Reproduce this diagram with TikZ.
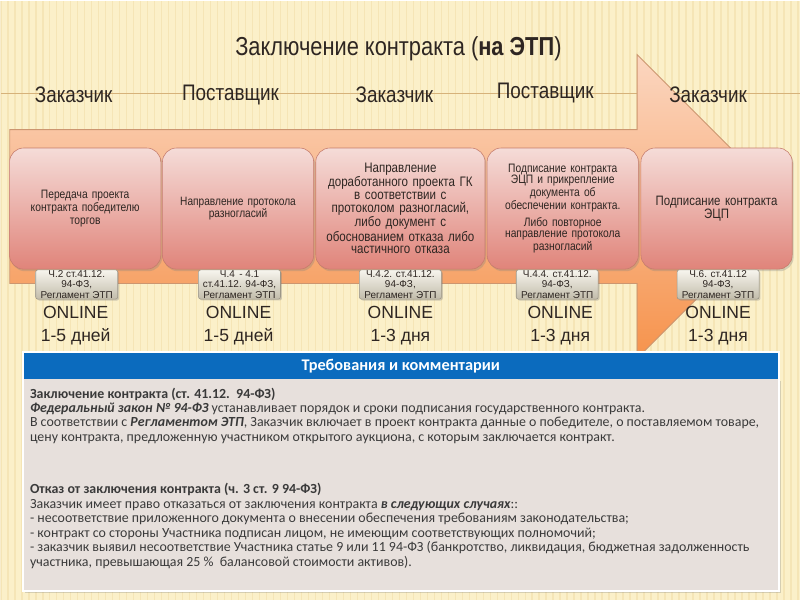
\documentclass[tikz,border=0pt]{standalone}
\usepackage{fontspec}
\setmainfont{Liberation Sans}
\newfontfamily\narrowfont[FakeStretch=0.84]{Liberation Sans}
\newfontfamily\panelfont{Carlito}
\usetikzlibrary{shadows,positioning}
\definecolor{CreamBg}    {HTML}{FBF0C9}
\definecolor{CreamStripe}{HTML}{F1DFAA}
\definecolor{RuleTan}    {HTML}{D6B27A}
\definecolor{ArrowTop}   {HTML}{FBD6C0}
\definecolor{ArrowBot}   {HTML}{F6934C}
\definecolor{ArrowEdge}  {HTML}{CC9670}
\definecolor{StepTop}    {HTML}{F5DCD8}
\definecolor{StepBot}    {HTML}{E0847A}
\definecolor{StepEdge}   {HTML}{C57C6C}
\definecolor{TagTop}     {HTML}{F7F5EE}
\definecolor{TagBot}     {HTML}{C2BCAA}
\definecolor{InkDark}    {HTML}{2E2622}
\definecolor{PanelBlue}  {HTML}{0B6BBE}
\definecolor{PanelBody}  {HTML}{E7E0DC}
\definecolor{PanelInk}   {HTML}{3A3A3A}
\tikzset{
  stepbox/.style={rectangle,rounded corners=10pt,draw=StepEdge,
                  top color=StepTop,bottom color=StepBot,
                  minimum width=3.65cm,minimum height=3.03cm,
                  text width=3.55cm,align=center,text=InkDark,
                  font=\narrowfont\fontsize{8.7}{9.6}\selectfont,
                  drop shadow={opacity=0.3,shadow xshift=1pt,shadow yshift=-1.5pt}},
  reftag/.style={rectangle,rounded corners=1.5pt,draw=TagBot!80!black,
                 top color=TagTop,bottom color=TagBot,
                 minimum width=2.05cm,minimum height=0.7cm,inner sep=0.5pt,
                 align=center,text=InkDark,
                 font=\fontsize{7.1}{7.4}\selectfont,
                 drop shadow={opacity=0.35,shadow xshift=1pt,shadow yshift=-1pt}},
  rolelbl/.style={font=\narrowfont\fontsize{16}{18}\selectfont,text=InkDark},
  termlbl/.style={font=\fontsize{12.5}{16.4}\selectfont,align=center,text=InkDark},
  paratext/.style={anchor=north west,inner sep=0pt,align=left,text=PanelInk,
                   font=\panelfont\fontsize{9.9}{10.3}\selectfont},
}

\begin{document}
\begin{tikzpicture}[x=0.025cm,y=-0.025cm]

  \fill[CreamBg] (0,0) rectangle (800,600);
  \foreach \sx in {0,7,...,800}
    \draw[CreamStripe,line width=1.1pt,opacity=0.6] (\sx,0) -- (\sx,600);
  \useasboundingbox (0,0) rectangle (800,600);

  \draw[RuleTan,line width=0.6pt] (0,93) -- (800,93);

  \draw[ArrowEdge,line width=0.6pt,top color=ArrowTop,bottom color=ArrowBot]
    (9,129) -- (637,129) -- (637,54) -- (789,206) -- (637,358)
    -- (637,283) -- (9,283) -- cycle;

  \node[font=\narrowfont\fontsize{18.5}{20}\selectfont,text=InkDark] (title) at (398,48)
    {Заключение контракта (\textbf{на ЭТП})};

  \node[rolelbl] (role1) at (73,94)  {Заказчик};
  \node[rolelbl] (role2) at (230,94) {Поставщик};
  \node[rolelbl] (role3) at (394,94) {Заказчик};
  \node[rolelbl] (role4) at (545,92) {Поставщик};
  \node[rolelbl] (role5) at (708,94) {Заказчик};

  \node[stepbox] (handover) at (84.5,208)
    {Передача проекта\\контракта победителю\\торгов};
  \node[stepbox,font=\narrowfont\fontsize{8.6}{8.8}\selectfont] (protocol) at (237.5,208)
    {Направление протокола\\разногласий};
  \node[stepbox,minimum width=4.1cm,text width=4.0cm,
        font=\narrowfont\fontsize{9.8}{9.1}\selectfont] (revised) at (400,208)
    {Направление\\доработанного проекта ГК\\в соответствии с\\протоколом разногласий,\\либо документ с\\обоснованием отказа либо\\частичного отказа};
  \node[stepbox,font=\narrowfont\fontsize{8.7}{7.9}\selectfont] (supsign) at (562.5,208)
    {Подписание контракта\\ЭЦП и прикрепление\\документа об\\обеспечении контракта.\\[3pt]Либо повторное\\направление протокола\\разногласий};
  \node[stepbox,font=\narrowfont\fontsize{9.7}{8.8}\selectfont] (custsign) at (716.5,208)
    {Подписание контракта\\ЭЦП};

  \node[reftag] (tag1) at (76,284)  {Ч.2 ст.41.12.\\94-ФЗ,\\Регламент ЭТП};
  \node[reftag] (tag2) at (239,284) {Ч.4 \,- 4.1\\ст.41.12. 94-ФЗ,\\Регламент ЭТП};
  \node[reftag] (tag3) at (400,284) {Ч.4.2. ст.41.12.\\94-ФЗ,\\Регламент ЭТП};
  \node[reftag] (tag4) at (557,284) {Ч.4.4. ст.41.12.\\94-ФЗ,\\Регламент ЭТП};
  \node[reftag] (tag5) at (718,284) {Ч.6. ст.41.12\\94-ФЗ,\\Регламент ЭТП};

  \node[termlbl] (term1) at (75,325)  {ONLINE\\1-5 дней};
  \node[termlbl] (term2) at (238,325) {ONLINE\\1-5 дней};
  \node[termlbl] (term3) at (400,325) {ONLINE\\1-3 дня};
  \node[termlbl] (term4) at (560,325) {ONLINE\\1-3 дня};
  \node[termlbl] (term5) at (718,325) {ONLINE\\1-3 дня};

  \node[anchor=north west,rectangle,fill=PanelBody,minimum width=18.9cm,
        minimum height=5.3cm,inner sep=0pt,
        drop shadow={opacity=0.3,shadow xshift=1.5pt,shadow yshift=-1.5pt}]
    (body) at (22,378) {};
  \node[anchor=north west,rectangle,fill=PanelBlue,minimum width=18.9cm,
        minimum height=0.65cm,inner sep=0pt,text=white,
        font=\panelfont\bfseries\fontsize{11.6}{13}\selectfont]
    (header) at (22,352) {Требования и комментарии};
  \draw[white,line width=1.5pt] (header.north west) rectangle (body.south east);

  \node[paratext] (clause) at (29,387)
    {\textbf{Заключение контракта (ст. 41.12.\ \ 94-ФЗ)}\\
     \textbf{\itshape Федеральный закон № 94-ФЗ} устанавливает порядок и сроки подписания государственного контракта.\\
     В соответствии с \textbf{\itshape Регламентом ЭТП}, Заказчик включает в проект контракта данные о победителе, о поставляемом товаре,\\
     цену контракта, предложенную участником открытого аукциона, с которым заключается контракт.};

  \node[paratext] (refusal) at (29,483)
    {\textbf{Отказ от заключения контракта (ч. 3 ст. 9 94-ФЗ)}\\
     Заказчик имеет право отказаться от заключения контракта \textbf{\itshape в следующих случаях}::\\
     - несоответствие приложенного документа о внесении обеспечения требованиям законодательства;\\
     - контракт со стороны Участника подписан лицом, не имеющим соответствующих полномочий;\\
     - заказчик выявил несоответствие Участника статье 9 или 11 94-ФЗ (банкротство, ликвидация, бюджетная задолженность\\
     участника, превышающая 25 \%\ \ балансовой стоимости активов).};

\end{tikzpicture}
\end{document}
